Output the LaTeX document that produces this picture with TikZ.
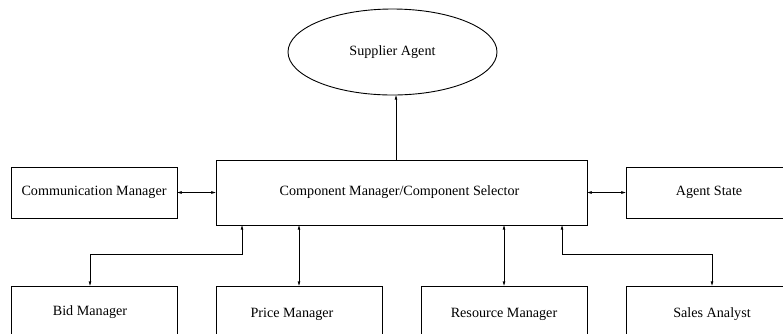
\documentclass[tikz,border=0pt]{standalone}
\usepackage{fontspec}
\setmainfont{Liberation Serif}
\usetikzlibrary{arrows.meta,shapes.geometric}
\begin{document}
\begin{tikzpicture}[x=1bp,y=-1bp,
  every node/.style={font=\fontsize{14.2}{17}\selectfont, inner sep=0pt},
  box/.style={draw, rectangle, line width=0.9bp, minimum width=166bp},
  ell/.style={draw, ellipse, line width=0.9bp, minimum width=209bp, minimum height=86bp},
  tip/.style={Stealth[length=10bp,width=6.5bp,inset=7bp]},
  conn/.style={line width=0.9bp, {Stealth[length=10bp,width=6.5bp,inset=7bp]}-{Stealth[length=10bp,width=6.5bp,inset=7bp]}},
  up/.style={line width=0.9bp, -{Stealth[length=10bp,width=6.5bp,inset=7bp]}}]
\useasboundingbox (0,0) rectangle (783,333);
\clip (0,0) rectangle (783,333);
\node[ell] (sup) at (392.5,52) {Supplier Agent};
\node[box, minimum width=371bp, minimum height=65bp] (cm) at (401.5,192.5) {\hspace*{-4bp}Component Manager/Component Selector};
\node[box, minimum height=51bp] (comm) at (94,192.5) {Communication Manager};
\node[box, minimum height=51bp] (agent) at (709,192.5) {Agent State};
\node[box, minimum height=52bp] (bid) at (94,312) {\hspace*{-8bp}Bid Manager};
\node[box, minimum height=56bp] (price) at (299,314) {\hspace*{-14bp}Price Manager};
\node[box, minimum height=56bp] (res) at (504,314) {Resource Manager};
\node[box, minimum height=56bp] (sales) at (709,314) {\hspace*{6bp}Sales Analyst};
\coordinate (a1) at (396,0);
\coordinate (j1) at (242,254);
\coordinate (j1b) at (90,254);
\coordinate (p1) at (299,0);
\coordinate (j2) at (562,254);
\coordinate (j2b) at (712,254);
\draw[up] (cm.north -| a1) -- (sup.south -| a1);
\draw[conn] (comm.east) -- (cm.west);
\draw[conn] (cm.east) -- (agent.west);
\draw[conn] (cm.south -| j1) |- (j1b) -- (bid.north -| j1b);
\draw[conn] (cm.south -| p1) -- (price.north -| p1);
\draw[conn] (cm.south -| res.north) -- (res.north);
\draw[conn] (cm.south -| j2) |- (j2b) -- (sales.north -| j2b);
\end{tikzpicture}
\end{document}
